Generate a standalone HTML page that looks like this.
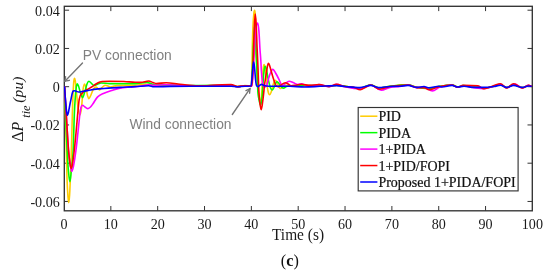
<!DOCTYPE html>
<html lang="en">
<head>
<meta charset="utf-8">
<title>Tie-line power deviation (c)</title>
<style>
html,body{margin:0;padding:0;background:#fff;}
body{width:550px;height:273px;overflow:hidden;}
svg{display:block;}
</style>
</head>
<body>
<svg width="550" height="273" viewBox="0 0 550 273">
<rect x="0" y="0" width="550" height="273" fill="#fff"/>
<g stroke="#333333" stroke-width="1.0" fill="none">
<rect x="64.30" y="6.30" width="468.00" height="204.50" stroke-width="1.35"/>
<path d="M110.84 210.80V206.00M110.84 6.30V11.10"/>
<path d="M157.68 210.80V206.00M157.68 6.30V11.10"/>
<path d="M204.52 210.80V206.00M204.52 6.30V11.10"/>
<path d="M251.36 210.80V206.00M251.36 6.30V11.10"/>
<path d="M298.20 210.80V206.00M298.20 6.30V11.10"/>
<path d="M345.04 210.80V206.00M345.04 6.30V11.10"/>
<path d="M391.88 210.80V206.00M391.88 6.30V11.10"/>
<path d="M438.72 210.80V206.00M438.72 6.30V11.10"/>
<path d="M485.56 210.80V206.00M485.56 6.30V11.10"/>
<path d="M64.30 10.20H69.10M532.30 10.20H527.50"/>
<path d="M64.30 48.45H69.10M532.30 48.45H527.50"/>
<path d="M64.30 86.70H69.10M532.30 86.70H527.50"/>
<path d="M64.30 124.95H69.10M532.30 124.95H527.50"/>
<path d="M64.30 163.20H69.10M532.30 163.20H527.50"/>
<path d="M64.30 201.45H69.10M532.30 201.45H527.50"/>
</g>
<clipPath id="ax"><rect x="64" y="6" width="468.4" height="205"/></clipPath>
<g fill="none" stroke-width="1.6" stroke-linejoin="round" stroke-linecap="butt" clip-path="url(#ax)">
<path d="M64.50 86.30C64.77 94.20 65.03 100.86 65.30 110.00C65.60 120.28 65.90 132.98 66.20 145.00C66.47 155.69 66.73 169.97 67.00 178.00C67.33 188.04 67.67 192.67 68.00 197.00C68.27 200.47 68.53 202.60 68.80 202.60C69.07 202.60 69.33 199.12 69.60 195.00C69.83 191.39 70.07 185.33 70.30 180.00C70.53 174.67 70.77 169.67 71.00 163.00C71.23 156.33 71.47 148.69 71.70 140.00C71.90 132.55 72.10 122.02 72.30 115.00C72.53 106.81 72.77 100.30 73.00 95.00C73.27 88.94 73.53 84.38 73.80 81.50C74.03 78.98 74.27 78.20 74.50 78.20C74.77 78.20 75.03 79.20 75.30 81.00C75.60 83.03 75.90 87.08 76.20 90.00C76.80 95.83 77.40 102.83 78.00 107.00C78.60 111.17 79.20 115.00 79.80 115.00C80.37 115.00 80.93 112.57 81.50 108.00C82.00 103.97 82.50 93.98 83.00 90.00C83.50 86.02 84.00 84.10 84.50 84.10C85.00 84.10 85.50 86.10 86.00 88.00C86.50 89.90 87.00 93.70 87.50 95.50C87.97 97.18 88.43 98.60 88.90 98.60C89.43 98.60 89.97 97.06 90.50 96.00C91.50 94.02 92.50 90.58 93.50 89.00C94.30 87.73 95.10 87.00 95.90 87.00C96.43 87.00 96.97 87.55 97.50 88.00C98.13 88.53 98.77 90.00 99.40 90.00C100.43 90.00 101.47 87.83 102.50 87.00C103.43 86.25 104.37 85.20 105.30 85.20C106.20 85.20 107.10 85.68 108.00 86.00C108.80 86.29 109.60 87.00 110.40 87.00C111.60 87.00 112.80 86.25 114.00 86.00C115.00 85.79 116.00 85.66 117.00 85.60C123.00 85.27 129.00 85.42 135.00 85.20C138.67 85.06 142.33 84.30 146.00 84.30C148.00 84.30 150.00 85.20 152.00 85.20C158.00 85.20 164.00 85.20 170.00 85.20C176.67 85.20 183.33 85.80 190.00 85.80C199.33 85.80 208.67 85.54 218.00 85.40C222.33 85.34 226.67 85.20 231.00 85.20C233.23 85.20 235.47 86.60 237.70 86.60C240.13 86.60 242.57 85.60 245.00 85.60C247.07 85.60 249.13 86.00 251.20 86.00C251.43 86.00 251.67 79.08 251.90 70.00C252.03 64.81 252.17 53.89 252.30 48.00C252.50 39.17 252.70 32.83 252.90 28.00C253.23 19.94 253.57 16.17 253.90 13.00C254.13 10.78 254.37 10.20 254.60 10.20C254.77 10.20 254.93 10.20 255.10 13.00C255.27 15.80 255.43 24.19 255.60 30.00C255.83 38.13 256.07 47.97 256.30 55.00C256.67 66.05 257.03 75.78 257.40 82.00C257.93 91.05 258.47 93.68 259.00 97.00C259.43 99.70 259.87 101.00 260.30 101.00C260.73 101.00 261.17 100.06 261.60 95.00C261.87 91.88 262.13 84.28 262.40 80.00C262.70 75.19 263.00 70.64 263.30 68.00C263.57 65.66 263.83 64.60 264.10 64.60C264.40 64.60 264.70 66.16 265.00 68.00C265.43 70.65 265.87 75.64 266.30 79.00C266.87 83.40 267.43 88.34 268.00 91.00C268.53 93.50 269.07 94.70 269.60 94.70C270.13 94.70 270.67 93.44 271.20 92.00C271.97 89.94 272.73 85.71 273.50 83.50C274.03 81.96 274.57 80.20 275.10 80.20C275.67 80.20 276.23 81.06 276.80 82.00C277.47 83.10 278.13 85.35 278.80 86.50C279.33 87.42 279.87 88.40 280.40 88.40C281.27 88.40 282.13 87.48 283.00 87.00C284.00 86.45 285.00 85.30 286.00 85.30C287.67 85.30 289.33 85.80 291.00 85.80C294.50 85.80 298.00 85.60 301.50 85.60C307.33 85.60 313.17 85.60 319.00 85.60C322.33 85.60 325.67 86.40 329.00 86.40C331.53 86.40 334.07 85.20 336.60 85.20C339.40 85.20 342.20 85.96 345.00 86.30C350.00 86.91 355.00 88.00 360.00 88.00C363.60 88.00 367.20 84.80 370.80 84.80C373.53 84.80 376.27 88.00 379.00 88.00C382.67 88.00 386.33 86.74 390.00 86.30C396.00 85.59 402.00 84.80 408.00 84.80C411.00 84.80 414.00 86.73 417.00 87.30C421.00 88.06 425.00 88.50 429.00 88.50C432.67 88.50 436.33 86.88 440.00 86.30C444.00 85.67 448.00 84.90 452.00 84.90C454.00 84.90 456.00 87.00 458.00 87.00C459.67 87.00 461.33 85.60 463.00 85.60C466.67 85.60 470.33 86.38 474.00 86.80C477.33 87.18 480.67 88.00 484.00 88.00C487.33 88.00 490.67 87.02 494.00 86.30C496.17 85.83 498.33 84.60 500.50 84.60C502.50 84.60 504.50 87.60 506.50 87.60C508.87 87.60 511.23 84.60 513.60 84.60C516.53 84.60 519.47 87.60 522.40 87.60C524.43 87.60 526.47 85.60 528.50 85.60C529.60 85.60 530.70 86.07 531.80 86.30" stroke="#ffcc00"/>
<path d="M64.50 86.30C64.83 94.20 65.17 101.88 65.50 110.00C66.03 122.99 66.57 139.14 67.10 150.00C67.57 159.50 68.03 166.72 68.50 172.00C68.97 177.28 69.43 181.70 69.90 181.70C70.33 181.70 70.77 176.00 71.20 172.00C71.87 165.85 72.53 164.27 73.20 150.00C73.57 142.15 73.93 124.13 74.30 115.00C74.63 106.70 74.97 101.67 75.30 97.00C75.63 92.33 75.97 89.18 76.30 87.00C76.63 84.82 76.97 83.90 77.30 83.90C77.70 83.90 78.10 84.95 78.50 86.00C79.17 87.75 79.83 91.07 80.50 93.00C81.17 94.93 81.83 97.60 82.50 97.60C83.33 97.60 84.17 93.56 85.00 91.00C85.67 88.95 86.33 85.64 87.00 84.00C87.63 82.44 88.27 81.30 88.90 81.30C89.77 81.30 90.63 82.79 91.50 83.50C92.33 84.19 93.17 85.50 94.00 85.50C95.50 85.50 97.00 84.21 98.50 83.70C99.33 83.42 100.17 83.00 101.00 83.00C103.87 83.00 106.73 83.57 109.60 83.60C118.07 83.70 126.53 83.70 135.00 83.70C138.83 83.70 142.67 82.40 146.50 82.40C148.33 82.40 150.17 83.50 152.00 84.00C153.33 84.36 154.67 85.00 156.00 85.00C160.67 85.00 165.33 84.80 170.00 84.80C176.67 84.80 183.33 85.60 190.00 85.60C199.33 85.60 208.67 85.51 218.00 85.40C222.33 85.35 226.67 85.20 231.00 85.20C233.23 85.20 235.47 86.80 237.70 86.80C240.13 86.80 242.57 85.80 245.00 85.80C247.17 85.80 249.33 86.00 251.50 86.00C251.80 86.00 252.10 76.42 252.40 70.00C252.67 64.30 252.93 55.73 253.20 50.00C253.53 42.83 253.87 36.32 254.20 32.00C254.57 27.25 254.93 23.30 255.30 23.30C255.42 23.30 255.53 27.44 255.65 32.00C255.75 35.91 255.85 44.26 255.95 48.00C256.17 56.11 256.38 56.78 256.60 62.00C256.80 66.82 257.00 73.33 257.20 78.00C257.43 83.44 257.67 88.92 257.90 92.00C258.37 98.17 258.83 98.75 259.30 101.00C259.73 103.09 260.17 105.20 260.60 105.20C260.97 105.20 261.33 102.70 261.70 100.00C262.00 97.79 262.30 94.94 262.60 91.00C262.87 87.50 263.13 81.50 263.40 78.00C263.70 74.06 264.00 70.97 264.30 69.00C264.60 67.03 264.90 66.20 265.20 66.20C265.57 66.20 265.93 67.56 266.30 69.00C266.87 71.22 267.43 75.33 268.00 78.00C268.77 81.61 269.53 85.44 270.30 87.50C270.97 89.29 271.63 90.00 272.30 90.00C272.93 90.00 273.57 88.29 274.20 87.00C274.67 86.05 275.13 84.41 275.60 83.50C276.00 82.72 276.40 81.80 276.80 81.80C277.40 81.80 278.00 82.36 278.60 83.00C279.40 83.85 280.20 85.63 281.00 86.50C281.80 87.37 282.60 88.20 283.40 88.20C284.43 88.20 285.47 86.96 286.50 86.60C288.00 86.08 289.50 85.89 291.00 85.80C294.50 85.60 298.00 85.60 301.50 85.60C307.33 85.60 313.17 85.60 319.00 85.60C322.33 85.60 325.67 86.40 329.00 86.40C331.53 86.40 334.07 85.20 336.60 85.20C339.40 85.20 342.20 85.93 345.00 86.30C350.00 86.96 355.00 88.30 360.00 88.30C363.60 88.30 367.20 84.80 370.80 84.80C373.53 84.80 376.27 88.00 379.00 88.00C382.67 88.00 386.33 86.74 390.00 86.30C396.00 85.59 402.00 84.80 408.00 84.80C411.00 84.80 414.00 86.92 417.00 87.50C421.00 88.27 425.00 88.50 429.00 88.50C432.67 88.50 436.33 86.88 440.00 86.30C444.00 85.67 448.00 84.90 452.00 84.90C454.00 84.90 456.00 87.00 458.00 87.00C459.67 87.00 461.33 85.60 463.00 85.60C466.67 85.60 470.33 86.53 474.00 87.00C477.33 87.43 480.67 88.30 484.00 88.30C487.33 88.30 490.67 87.07 494.00 86.30C496.17 85.80 498.33 84.60 500.50 84.60C502.50 84.60 504.50 87.60 506.50 87.60C508.87 87.60 511.23 84.60 513.60 84.60C516.53 84.60 519.47 87.60 522.40 87.60C524.43 87.60 526.47 85.60 528.50 85.60C529.60 85.60 530.70 86.27 531.80 86.60" stroke="#00ff00"/>
<path d="M64.50 86.30C65.00 94.20 65.50 102.05 66.00 110.00C66.83 123.25 67.67 140.00 68.50 150.00C69.17 158.00 69.83 161.81 70.50 166.00C70.90 168.52 71.30 171.50 71.70 171.50C72.30 171.50 72.90 168.84 73.50 166.00C74.33 162.06 75.17 156.42 76.00 150.00C76.67 144.87 77.33 138.15 78.00 132.00C78.60 126.47 79.20 119.71 79.80 115.00C80.20 111.86 80.60 109.04 81.00 107.50C81.50 105.57 82.00 105.30 82.50 105.30C83.33 105.30 84.17 106.49 85.00 107.00C86.00 107.61 87.00 108.60 88.00 108.60C88.83 108.60 89.67 107.82 90.50 107.00C91.33 106.18 92.17 104.88 93.00 103.70C94.47 101.63 95.93 98.63 97.40 97.10C99.60 94.80 101.80 94.24 104.00 93.20C106.53 92.00 109.07 91.31 111.60 90.50C114.40 89.60 117.20 88.65 120.00 88.10C123.33 87.44 126.67 87.30 130.00 87.00C133.33 86.70 136.67 86.70 140.00 86.30C142.90 85.95 145.80 84.80 148.70 84.80C150.47 84.80 152.23 85.20 154.00 85.20C157.67 85.20 161.33 84.70 165.00 84.70C170.00 84.70 175.00 85.12 180.00 85.30C186.67 85.53 193.33 85.90 200.00 85.90C206.00 85.90 212.00 85.58 218.00 85.40C222.33 85.27 226.67 85.00 231.00 85.00C233.23 85.00 235.47 86.80 237.70 86.80C240.13 86.80 242.57 85.80 245.00 85.80C247.33 85.80 249.67 86.00 252.00 86.00C252.47 86.00 252.93 77.33 253.40 70.00C253.73 64.76 254.07 55.83 254.40 50.00C254.80 43.00 255.20 35.90 255.60 32.00C256.27 25.50 256.93 23.00 257.60 23.00C257.90 23.00 258.20 24.62 258.50 27.00C258.73 28.85 258.97 31.50 259.20 35.00C259.43 38.50 259.67 44.28 259.90 48.00C260.20 52.79 260.50 55.00 260.80 60.00C260.97 62.78 261.13 67.46 261.30 70.00C261.70 76.10 262.10 79.74 262.50 82.60C262.83 84.98 263.17 85.67 263.50 86.40C263.87 87.20 264.23 87.20 264.60 87.20C265.00 87.20 265.40 86.71 265.80 86.30C266.13 85.96 266.47 85.84 266.80 85.00C267.20 83.99 267.60 81.92 268.00 80.50C268.50 78.73 269.00 76.92 269.50 75.50C269.97 74.17 270.43 73.15 270.90 72.20C271.47 71.05 272.03 69.30 272.60 69.30C272.97 69.30 273.33 69.60 273.70 70.00C274.23 70.59 274.77 71.61 275.30 72.50C275.87 73.44 276.43 74.43 277.00 75.50C277.83 77.07 278.67 78.81 279.50 80.50C280.23 81.98 280.97 84.49 281.70 85.00C282.13 85.30 282.57 85.30 283.00 85.30C284.00 85.30 285.00 83.65 286.00 83.00C287.13 82.27 288.27 81.20 289.40 81.20C290.60 81.20 291.80 82.04 293.00 82.50C294.67 83.13 296.33 84.50 298.00 84.50C299.17 84.50 300.33 83.70 301.50 83.70C303.33 83.70 305.17 85.60 307.00 85.60C309.00 85.60 311.00 85.60 313.00 85.60C315.00 85.60 317.00 84.60 319.00 84.60C322.33 84.60 325.67 86.80 329.00 86.80C331.53 86.80 334.07 84.40 336.60 84.40C339.40 84.40 342.20 86.20 345.00 86.80C350.10 87.90 355.20 89.00 360.30 89.00C363.80 89.00 367.30 85.00 370.80 85.00C374.27 85.00 377.73 90.30 381.20 90.30C384.13 90.30 387.07 88.13 390.00 87.50C393.33 86.79 396.67 86.88 400.00 86.40C402.67 86.02 405.33 85.00 408.00 85.00C411.00 85.00 414.00 87.60 417.00 87.60C419.33 87.60 421.67 87.40 424.00 87.40C426.80 87.40 429.60 90.90 432.40 90.90C434.93 90.90 437.47 87.86 440.00 87.00C444.00 85.64 448.00 85.00 452.00 85.00C453.90 85.00 455.80 87.30 457.70 87.30C459.47 87.30 461.23 85.80 463.00 85.80C466.67 85.80 470.33 87.12 474.00 87.60C477.33 88.04 480.67 88.60 484.00 88.60C487.00 88.60 490.00 87.21 493.00 86.40C495.50 85.73 498.00 84.20 500.50 84.20C502.50 84.20 504.50 87.80 506.50 87.80C509.33 87.80 512.17 84.00 515.00 84.00C517.47 84.00 519.93 88.00 522.40 88.00C524.43 88.00 526.47 85.40 528.50 85.40C529.60 85.40 530.70 86.13 531.80 86.50" stroke="#ff00ff"/>
<path d="M64.50 86.30C65.00 94.20 65.50 102.05 66.00 110.00C66.83 123.25 67.67 139.44 68.50 150.00C69.00 156.33 69.50 160.54 70.00 164.00C70.33 166.31 70.67 168.50 71.00 168.50C71.40 168.50 71.80 167.01 72.20 165.00C72.90 161.48 73.60 156.00 74.30 150.00C74.87 145.14 75.43 139.02 76.00 133.00C76.53 127.33 77.07 120.62 77.60 115.00C78.13 109.38 78.67 102.50 79.20 99.30C80.13 93.70 81.07 94.54 82.00 93.20C83.83 90.57 85.67 90.56 87.50 89.40C89.07 88.41 90.63 87.71 92.20 86.70C93.47 85.89 94.73 84.77 96.00 84.00C97.33 83.19 98.67 82.48 100.00 82.00C100.77 81.72 101.53 81.59 102.30 81.50C104.73 81.20 107.17 81.20 109.60 81.20C114.40 81.20 119.20 81.28 124.00 81.50C127.67 81.67 131.33 82.14 135.00 82.30C137.00 82.39 139.00 82.40 141.00 82.40C143.57 82.40 146.13 81.00 148.70 81.00C150.13 81.00 151.57 82.04 153.00 82.50C154.13 82.86 155.27 83.50 156.40 83.50C159.70 83.50 163.00 82.80 166.30 82.80C170.20 82.80 174.10 83.57 178.00 84.00C182.00 84.44 186.00 85.07 190.00 85.40C192.00 85.57 194.00 85.70 196.00 85.70C199.67 85.70 203.33 85.70 207.00 85.70C210.67 85.70 214.33 85.17 218.00 85.00C222.33 84.80 226.67 84.60 231.00 84.60C233.23 84.60 235.47 86.60 237.70 86.60C240.13 86.60 242.57 85.70 245.00 85.70C247.27 85.70 249.53 86.00 251.80 86.00C252.13 86.00 252.47 77.25 252.80 70.00C253.07 64.20 253.33 55.48 253.60 48.00C253.83 41.46 254.07 33.15 254.30 28.00C254.60 21.38 254.90 14.00 255.20 14.00C255.50 14.00 255.80 17.75 256.10 23.00C256.43 28.83 256.77 40.13 257.10 48.00C257.40 55.08 257.70 60.54 258.00 68.00C258.27 74.63 258.53 84.76 258.80 90.00C259.17 97.21 259.53 99.87 259.90 103.00C260.33 106.69 260.77 109.80 261.20 109.80C261.63 109.80 262.07 105.94 262.50 103.00C262.90 100.29 263.30 96.67 263.70 93.00C263.97 90.56 264.23 87.22 264.50 85.00C264.90 81.67 265.30 79.61 265.70 77.00C266.07 74.61 266.43 72.19 266.80 70.00C267.10 68.21 267.40 66.17 267.70 65.00C267.97 63.96 268.23 63.20 268.50 63.20C268.87 63.20 269.23 64.48 269.60 65.50C270.03 66.70 270.47 68.50 270.90 70.00C271.67 72.66 272.43 75.52 273.20 78.00C273.87 80.16 274.53 82.52 275.20 84.00C275.73 85.18 276.27 86.03 276.80 86.30C277.40 86.60 278.00 86.60 278.60 86.60C279.27 86.60 279.93 85.85 280.60 85.40C281.40 84.86 282.20 84.04 283.00 83.60C283.87 83.12 284.73 82.70 285.60 82.70C286.57 82.70 287.53 83.76 288.50 84.30C289.33 84.76 290.17 85.70 291.00 85.70C292.67 85.70 294.33 85.42 296.00 85.20C297.83 84.96 299.67 84.30 301.50 84.30C304.33 84.30 307.17 85.40 310.00 85.40C313.00 85.40 316.00 84.50 319.00 84.50C322.33 84.50 325.67 86.50 329.00 86.50C331.53 86.50 334.07 84.30 336.60 84.30C339.40 84.30 342.20 86.19 345.00 86.50C347.67 86.79 350.33 86.60 353.00 87.00C355.43 87.37 357.87 89.80 360.30 89.80C362.20 89.80 364.10 87.86 366.00 87.00C367.60 86.27 369.20 85.00 370.80 85.00C373.73 85.00 376.67 89.20 379.60 89.20C383.07 89.20 386.53 87.09 390.00 86.50C396.00 85.47 402.00 85.00 408.00 85.00C411.00 85.00 414.00 87.60 417.00 87.60C419.33 87.60 421.67 87.60 424.00 87.60C425.67 87.60 427.33 89.80 429.00 89.80C430.67 89.80 432.33 88.99 434.00 88.50C436.00 87.91 438.00 86.96 440.00 86.50C444.00 85.58 448.00 85.00 452.00 85.00C453.90 85.00 455.80 87.30 457.70 87.30C459.47 87.30 461.23 85.40 463.00 85.40C468.00 85.40 473.00 85.40 478.00 85.90C480.00 86.10 482.00 88.70 484.00 88.70C487.00 88.70 490.00 86.91 493.00 86.00C495.50 85.24 498.00 83.70 500.50 83.70C502.50 83.70 504.50 88.00 506.50 88.00C508.87 88.00 511.23 83.70 513.60 83.70C516.53 83.70 519.47 88.00 522.40 88.00C524.43 88.00 526.47 85.20 528.50 85.20C529.60 85.20 530.70 86.07 531.80 86.50" stroke="#ff0000"/>
<path d="M64.50 86.30C64.83 90.87 65.17 95.88 65.50 100.00C65.83 104.12 66.17 108.42 66.50 111.00C66.83 113.58 67.17 115.50 67.50 115.50C67.83 115.50 68.17 113.47 68.50 112.00C69.00 109.79 69.50 106.51 70.00 104.00C70.33 102.33 70.67 100.89 71.00 99.30C71.40 97.39 71.80 94.97 72.20 93.50C72.53 92.28 72.87 91.23 73.20 91.00C73.63 90.70 74.07 90.70 74.50 90.70C75.17 90.70 75.83 91.19 76.50 91.40C77.20 91.62 77.90 92.00 78.60 92.00C79.73 92.00 80.87 91.68 82.00 91.50C83.83 91.22 85.67 90.91 87.50 90.60C90.33 90.12 93.17 89.46 96.00 89.10C98.67 88.76 101.33 88.70 104.00 88.50C106.67 88.30 109.33 88.08 112.00 87.90C114.67 87.72 117.33 87.55 120.00 87.40C125.00 87.12 130.00 86.95 135.00 86.65C139.57 86.38 144.13 85.70 148.70 85.70C150.47 85.70 152.23 86.80 154.00 86.80C159.33 86.80 164.67 86.48 170.00 86.40C176.67 86.30 183.33 86.30 190.00 86.30C199.33 86.30 208.67 86.30 218.00 86.30C222.33 86.30 226.67 86.20 231.00 86.20C233.23 86.20 235.47 86.80 237.70 86.80C240.13 86.80 242.57 86.31 245.00 86.30C247.00 86.30 249.00 86.30 251.00 86.00C251.27 85.96 251.53 82.60 251.80 80.00C252.13 76.75 252.47 71.09 252.80 68.00C253.10 65.22 253.40 62.10 253.70 62.10C254.00 62.10 254.30 65.22 254.60 68.00C254.93 71.09 255.27 76.98 255.60 80.00C255.90 82.72 256.20 84.84 256.50 85.50C257.00 86.60 257.50 86.60 258.00 86.60C258.50 86.60 259.00 85.82 259.50 85.50C260.17 85.07 260.83 84.40 261.50 84.40C262.33 84.40 263.17 85.11 264.00 85.40C264.67 85.63 265.33 85.96 266.00 86.00C269.00 86.20 272.00 86.19 275.00 86.20C280.00 86.22 285.00 86.20 290.00 86.30C294.93 86.40 299.87 87.00 304.80 87.00C309.87 87.00 314.93 86.52 320.00 86.30C325.53 86.06 331.07 85.60 336.60 85.60C339.40 85.60 342.20 86.25 345.00 86.50C349.93 86.95 354.87 87.60 359.80 87.60C363.47 87.60 367.13 85.40 370.80 85.40C373.37 85.40 375.93 87.60 378.50 87.60C382.33 87.60 386.17 86.65 390.00 86.50C393.33 86.37 396.67 86.45 400.00 86.30C402.67 86.18 405.33 85.40 408.00 85.40C411.00 85.40 414.00 87.40 417.00 87.40C419.33 87.40 421.67 86.50 424.00 86.50C425.67 86.50 427.33 87.80 429.00 87.80C432.33 87.80 435.67 86.30 439.00 86.30C440.00 86.30 441.00 87.00 442.00 87.00C445.33 87.00 448.67 85.40 452.00 85.40C453.90 85.40 455.80 87.00 457.70 87.00C459.80 87.00 461.90 86.30 464.00 86.30C467.33 86.30 470.67 87.40 474.00 87.40C477.00 87.40 480.00 87.40 483.00 87.40C486.67 87.40 490.33 87.02 494.00 86.50C496.17 86.19 498.33 85.20 500.50 85.20C502.50 85.20 504.50 87.40 506.50 87.40C508.87 87.40 511.23 85.40 513.60 85.40C516.53 85.40 519.47 87.40 522.40 87.40C524.43 87.40 526.47 86.00 528.50 86.00C529.60 86.00 530.70 86.20 531.80 86.30" stroke="#0000ff"/>
</g>
<g font-family="'Liberation Serif', 'Times New Roman', serif" fill="#1a1a1a">
<text transform="translate(64.00 228.80) scale(1 1.060)" font-size="14.10" text-anchor="middle">0</text>
<text transform="translate(110.84 228.80) scale(1 1.060)" font-size="14.10" text-anchor="middle">10</text>
<text transform="translate(157.68 228.80) scale(1 1.060)" font-size="14.10" text-anchor="middle">20</text>
<text transform="translate(204.52 228.80) scale(1 1.060)" font-size="14.10" text-anchor="middle">30</text>
<text transform="translate(251.36 228.80) scale(1 1.060)" font-size="14.10" text-anchor="middle">40</text>
<text transform="translate(298.20 228.80) scale(1 1.060)" font-size="14.10" text-anchor="middle">50</text>
<text transform="translate(345.04 228.80) scale(1 1.060)" font-size="14.10" text-anchor="middle">60</text>
<text transform="translate(391.88 228.80) scale(1 1.060)" font-size="14.10" text-anchor="middle">70</text>
<text transform="translate(438.72 228.80) scale(1 1.060)" font-size="14.10" text-anchor="middle">80</text>
<text transform="translate(485.56 228.80) scale(1 1.060)" font-size="14.10" text-anchor="middle">90</text>
<text transform="translate(532.40 228.80) scale(1 1.060)" font-size="14.10" text-anchor="middle">100</text>
<text transform="translate(59.75 15.50) scale(1 1.060)" font-size="14.10" text-anchor="end">0.04</text>
<text transform="translate(59.75 53.75) scale(1 1.060)" font-size="14.10" text-anchor="end">0.02</text>
<text transform="translate(59.75 92.00) scale(1 1.060)" font-size="14.10" text-anchor="end">0</text>
<text transform="translate(59.75 130.25) scale(1 1.060)" font-size="14.10" text-anchor="end">-0.02</text>
<text transform="translate(59.75 168.50) scale(1 1.060)" font-size="14.10" text-anchor="end">-0.04</text>
<text transform="translate(59.75 206.75) scale(1 1.060)" font-size="14.10" text-anchor="end">-0.06</text>
</g>
<g font-family="'Liberation Serif', serif" fill="#1a1a1a">
<text transform="translate(298.00 239.60) scale(1 1.080)" font-size="15.40" text-anchor="middle">Time (s)</text>
</g>
<text transform="translate(23.3 141.7) rotate(-90)" text-anchor="start" font-family="'Liberation Serif', serif" font-size="16" fill="#1a1a1a">Δ<tspan font-style="italic">P</tspan><tspan font-style="italic" font-size="12.3" dy="6.5" dx="3.9">tie</tspan><tspan font-style="italic" font-size="15.6" dy="-6.5" dx="2.8">(pu)</tspan></text>
<g font-family="'Liberation Sans', Arial, sans-serif" fill="#808080">
<text transform="translate(82.80 59.70) scale(1 1.080)" font-size="13.80" text-anchor="start">PV connection</text>
<text transform="translate(129.50 128.80) scale(1 1.080)" font-size="13.80" text-anchor="start">Wind connection</text>
</g>
<g stroke="#747474" stroke-width="1.35" fill="none" stroke-linecap="round">
<path d="M82.5 63L64.9 81.2"/>
<path d="M65.6 76.6L64.9 81.2L69.4 80.3"/>
<path d="M232.3 114.5L250 88.7"/>
<path d="M246 90.6L250 88.7L249.6 93.2"/>
</g>
<rect x="358.2" y="107.5" width="159.9" height="83.4" fill="#fff" stroke="#333333" stroke-width="1.15"/>
<g font-family="'Liberation Serif', serif" fill="#111" stroke="#111" stroke-width="0.22">
<path d="M360.2 116.20H377.4" stroke="#ffcc00" stroke-width="1.5" fill="none"/>
<text transform="translate(378.40 121.35) scale(1 1.100)" font-size="14.00" text-anchor="start" stroke-width="0.22">PID</text>
<path d="M360.2 132.65H377.4" stroke="#00ff00" stroke-width="1.5" fill="none"/>
<text transform="translate(378.40 137.80) scale(1 1.100)" font-size="14.00" text-anchor="start" stroke-width="0.22">PIDA</text>
<path d="M360.2 149.10H377.4" stroke="#ff00ff" stroke-width="1.5" fill="none"/>
<text transform="translate(378.40 154.25) scale(1 1.100)" font-size="14.00" text-anchor="start" stroke-width="0.22">1+PIDA</text>
<path d="M360.2 165.55H377.4" stroke="#ff0000" stroke-width="1.5" fill="none"/>
<text transform="translate(378.40 170.70) scale(1 1.100)" font-size="14.00" text-anchor="start" stroke-width="0.22">1+PID/FOPI</text>
<path d="M360.2 182.00H377.4" stroke="#0000ff" stroke-width="1.5" fill="none"/>
<text transform="translate(378.40 187.15) scale(1 1.100)" font-size="14.00" text-anchor="start" stroke-width="0.22">Proposed 1+PIDA/FOPI</text>
</g>
<text x="289.8" y="265.8" text-anchor="middle" font-family="'Liberation Serif', serif" font-size="16.2" fill="#111">(<tspan font-weight="bold">c</tspan>)</text>
</svg>
</body>
</html>
